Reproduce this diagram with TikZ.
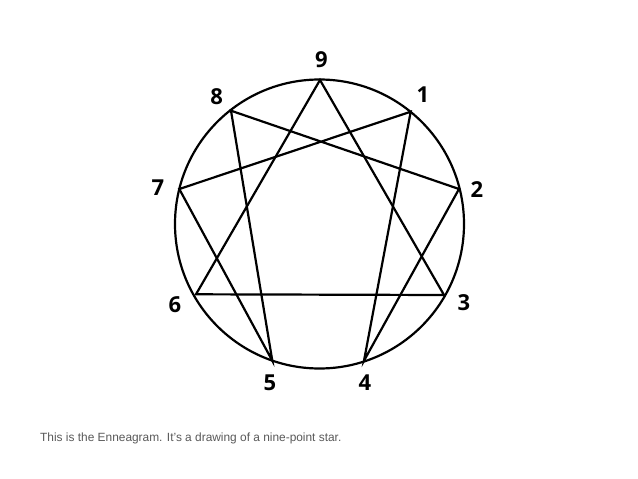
\documentclass[tikz,border=0pt]{standalone}
\usepackage{fontspec}
\setmainfont{Liberation Sans}
\newfontfamily\numfont{Open Sans}
\tikzset{
  edge/.style={line width=2.2pt, line join=miter},
  num/.style={font=\numfont\bfseries\fontsize{22}{22}\selectfont, inner sep=0pt},
  caption/.style={font=\fontsize{11.9}{14}\selectfont, text=black!65, anchor=west, inner sep=0pt}
}
\begin{document}
\begin{tikzpicture}[x=1pt,y=-1pt]
\useasboundingbox (0,0) rectangle (638,479);
\fill[white] (0,0) rectangle (638,479);
\node[draw, edge, circle, minimum size=289pt, inner sep=0pt] (c) at (319.5,224) {};
\coordinate (p9) at (320,80);
\coordinate (p1) at (410.7,111.7);
\coordinate (p2) at (459,189);
\coordinate (p3) at (444,295);
\coordinate (p4) at (364,360.7);
\coordinate (p5) at (272.3,360.7);
\coordinate (p6) at (196,294.3);
\coordinate (p7) at (179.3,189);
\coordinate (p8) at (231,110.7);
\draw[edge] (p9) -- (p3) -- (p6) -- cycle;
\draw[edge] (p1) -- (p4) -- (p2) -- (p8) -- (p5) -- (p7) -- cycle;
\node[num] (n9) at (321.5,60) {9};
\node[num] (n1) at (423,95) {1};
\node[num] (n2) at (477,190) {2};
\node[num] (n3) at (464,303) {3};
\node[num] (n4) at (365,383) {4};
\node[num] (n5) at (270,383) {5};
\node[num] (n6) at (175,305) {6};
\node[num] (n7) at (158,188) {7};
\node[num] (n8) at (216.7,96.7) {8};
\node[caption] (cap) at (40,438) {This is the Enneagram. It’s a drawing of a nine-point star.};
\end{tikzpicture}
\end{document}
